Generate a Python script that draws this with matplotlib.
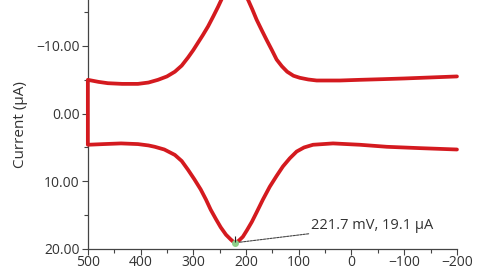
import numpy as np
import matplotlib.pyplot as plt
from matplotlib.ticker import MultipleLocator, FuncFormatter

# potential (mV) and current (uA)
# upper branch, 500 mV -> -200 mV
top_mv = [500, 480, 462, 435, 405, 385, 367, 350, 335, 322, 310, 300, 291, 282,
          272, 262, 253, 244, 235, 226, 218, 208, 196, 188, 180, 170, 161, 151,
          142, 132, 122, 110, 98, 82, 66, 22, -16, -60, -100, -150, -200]
top_ua = [-5.0, -4.7, -4.5, -4.4, -4.4, -4.6, -5.0, -5.5, -6.2, -7.1, -8.3, -9.4,
          -10.5, -11.6, -12.9, -14.4, -15.8, -17.3, -18.6, -19.3, -19.2, -18.4,
          -16.8, -15.4, -13.9, -12.3, -10.9, -9.4, -8.0, -7.0, -6.2, -5.6, -5.3,
          -5.05, -4.9, -4.9, -5.0, -5.1, -5.2, -5.35, -5.5]

# lower branch, 500 mV -> -200 mV
bot_mv = [500, 470, 437, 405, 385, 373, 355, 335, 322, 310, 298, 286, 276, 267,
          257, 248, 238, 229, 221.7, 214, 206, 198, 189, 180, 168, 155, 142, 130,
          117, 104, 90, 73, 35, -16, -67, -130, -200]
bot_ua = [4.6, 4.5, 4.4, 4.5, 4.7, 4.9, 5.3, 6.1, 7.0, 8.3, 9.7, 11.2, 12.7, 14.2,
          15.6, 16.8, 17.9, 18.6, 19.1, 18.8, 18.2, 17.2, 16.0, 14.6, 12.7, 10.8,
          9.2, 7.8, 6.6, 5.6, 5.0, 4.6, 4.4, 4.6, 4.9, 5.1, 5.3]

peak_mv = 221.7
peak_ua = 19.1
peak_text = '221.7 mV, 19.1 µA'

plt.rcParams['font.family'] = ['Open Sans', 'DejaVu Sans']
txt_col = '#333333'

fig = plt.figure(figsize=(4.8, 2.7), dpi=100)
ax = fig.add_axes([0.183, 0.078, 0.769, 0.922])

# one trace: upper branch back to 500 mV, vertical step, then lower branch
x = top_mv[::-1] + bot_mv
y = top_ua[::-1] + bot_ua
ax.plot(x, y, color='#d41a1f', lw=2.7, solid_capstyle='round',
        solid_joinstyle='round', zorder=3, clip_on=False)

# peak marker + label
ax.plot([peak_mv], [peak_ua], marker='o', ms=4, color='#8fd18a', mec='#8fd18a', zorder=4)
ax.plot([peak_mv], [peak_ua - 0.6], marker='|', ms=4, color='#222222', mew=0.8, zorder=5)
ax.annotate(peak_text, xy=(peak_mv, peak_ua), xytext=(76, 16.6),
            fontsize=10.5, color=txt_col, va='center', ha='left',
            arrowprops=dict(arrowstyle='-', color='#444444', lw=0.8,
                            linestyle=(0, (2, 1)), shrinkA=0, shrinkB=2))

ax.set_xlim(500, -200)
ax.set_ylim(20, -16.8)

ax.xaxis.set_major_locator(MultipleLocator(100))
ax.xaxis.set_minor_locator(MultipleLocator(50))
ax.yaxis.set_major_locator(MultipleLocator(10))
ax.yaxis.set_minor_locator(MultipleLocator(5))
ax.xaxis.set_major_formatter(FuncFormatter(lambda v, p: f'{v:.0f}'.replace('-', '\u2212')))
ax.yaxis.set_major_formatter(FuncFormatter(lambda v, p: f'{v:.2f}'.replace('-', '\u2212')))

for s in ['top', 'right']:
    ax.spines[s].set_visible(False)
for s in ['left', 'bottom']:
    ax.spines[s].set_color('#444444')
    ax.spines[s].set_linewidth(0.9)

ax.tick_params(which='both', direction='out', colors='#444444', labelcolor=txt_col,
               labelsize=10, width=0.8, pad=2)
ax.tick_params(axis='x', which='major', pad=0.5)
ax.tick_params(which='major', length=4)
ax.tick_params(which='minor', length=3)

ax.set_ylabel('Current (µA)', fontsize=11, color=txt_col, labelpad=6)

fig.savefig('out.png', dpi=100)
